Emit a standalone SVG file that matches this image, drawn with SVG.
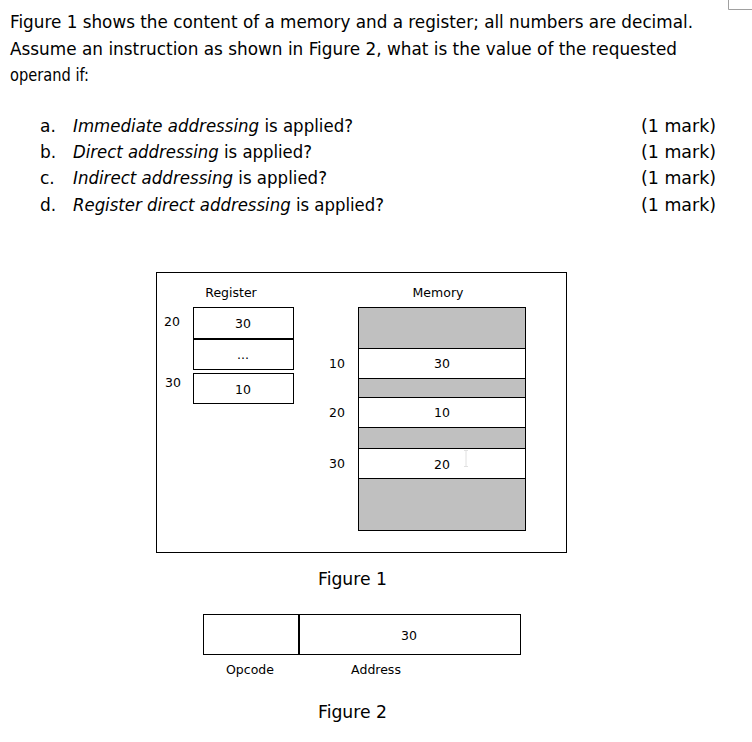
<svg xmlns="http://www.w3.org/2000/svg" width="752" height="742" viewBox="0 0 752 742">
<style>
text{font-family:"DejaVu Sans","Liberation Sans",sans-serif;fill:#000}
.q{font-size:17px}
.s{font-size:12.5px}
.c{text-anchor:middle}
.box{fill:#fff;stroke:#000;stroke-width:1}
.gray{fill:#c0c0c0;stroke:#000;stroke-width:1}
</style>
<rect width="752" height="742" fill="#fff"/>
<path d="M728.5 0 V9.5 H752" fill="none" stroke="#a0a0a0" stroke-width="1"/>
<g id="question">
<text class="q" x="10" y="28" textLength="683" lengthAdjust="spacingAndGlyphs">Figure 1 shows the content of a memory and a register; all numbers are decimal.</text>
<text class="q" x="10" y="55" textLength="667" lengthAdjust="spacingAndGlyphs">Assume an instruction as shown in Figure 2, what is the value of the requested</text>
<text class="q" x="10" y="81" textLength="79" lengthAdjust="spacingAndGlyphs">operand if:</text>
<text class="q" x="40" y="132">a.</text>
<text class="q" x="73" y="132" textLength="280" lengthAdjust="spacingAndGlyphs"><tspan font-style="italic">Immediate addressing</tspan> is applied?</text>
<text class="q" x="40" y="158">b.</text>
<text class="q" x="73" y="158" textLength="239" lengthAdjust="spacingAndGlyphs"><tspan font-style="italic">Direct addressing</tspan> is applied?</text>
<text class="q" x="40" y="184">c.</text>
<text class="q" x="73" y="184" textLength="254" lengthAdjust="spacingAndGlyphs"><tspan font-style="italic">Indirect addressing</tspan> is applied?</text>
<text class="q" x="40" y="211">d.</text>
<text class="q" x="73" y="211" textLength="311" lengthAdjust="spacingAndGlyphs"><tspan font-style="italic">Register direct addressing</tspan> is applied?</text>
<text class="q" x="641" y="132" textLength="75" lengthAdjust="spacingAndGlyphs">(1 mark)</text>
<text class="q" x="641" y="158" textLength="75" lengthAdjust="spacingAndGlyphs">(1 mark)</text>
<text class="q" x="641" y="184" textLength="75" lengthAdjust="spacingAndGlyphs">(1 mark)</text>
<text class="q" x="641" y="211" textLength="75" lengthAdjust="spacingAndGlyphs">(1 mark)</text>
</g>
<g id="figure1">
<rect x="156.5" y="272.5" width="410" height="280" fill="#fff" stroke="#000"/>
<text class="s c" x="231" y="297">Register</text>
<text class="s c" x="438" y="297">Memory</text>
</g>
<g id="registers">
<rect class="box" x="193.5" y="307.5" width="100" height="31"/>
<rect class="box" x="193.5" y="339.5" width="100" height="30"/>
<line x1="193" y1="339" x2="294" y2="339" stroke="#000" stroke-width="2"/>
<rect class="box" x="193.5" y="373.5" width="100" height="30"/>
<text class="s c" x="243" y="328">30</text>
<text class="s c" x="243" y="359">...</text>
<text class="s c" x="243" y="394">10</text>
<text class="s" x="164" y="326">20</text>
<text class="s" x="165" y="387">30</text>
</g>
<g id="memory">
<rect class="gray" x="358.5" y="307.5" width="167" height="41"/>
<rect class="box" x="358.5" y="348.5" width="167" height="30"/>
<rect class="gray" x="358.5" y="378.5" width="167" height="19"/>
<rect class="box" x="358.5" y="397.5" width="167" height="30"/>
<rect class="gray" x="358.5" y="427.5" width="167" height="21"/>
<rect class="box" x="358.5" y="448.5" width="167" height="30"/>
<rect class="gray" x="358.5" y="478.5" width="167" height="52"/>
<text class="s c" x="442" y="368">30</text>
<text class="s c" x="442" y="417">10</text>
<text class="s c" x="442" y="469">20</text>
<text class="s" x="329" y="368">10</text>
<text class="s" x="329" y="417">20</text>
<text class="s" x="329" y="468">30</text>
<path d="M464 450.5 H468 M466 450.5 V466.5 M464 466.5 H468" stroke="#e0e0e0" stroke-width="1" fill="none"/>
</g>
<text class="q" x="318" y="585" textLength="69" lengthAdjust="spacingAndGlyphs">Figure 1</text>
<g id="instruction">
<rect class="box" x="203.5" y="614.5" width="317" height="40"/>
<line x1="299" y1="614" x2="299" y2="655" stroke="#000" stroke-width="2"/>
<text class="s c" x="409" y="640">30</text>
<text class="s c" x="250" y="674">Opcode</text>
<text class="s c" x="376" y="674">Address</text>
</g>
<text class="q" x="318" y="718" textLength="69" lengthAdjust="spacingAndGlyphs">Figure 2</text>
</svg>
